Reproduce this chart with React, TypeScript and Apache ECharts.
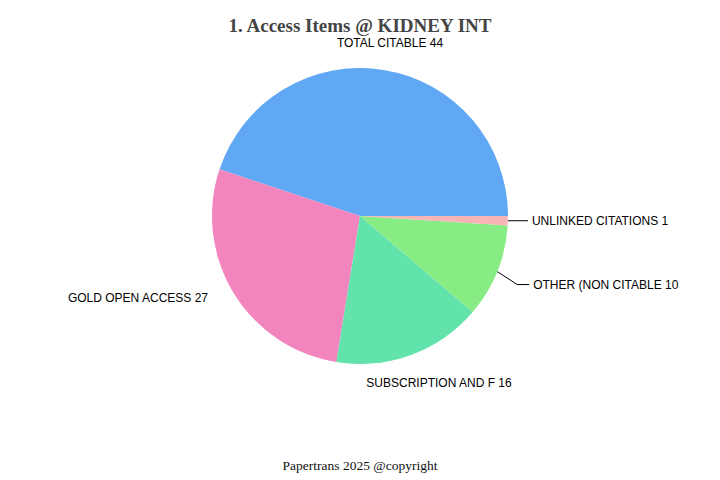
import { useEffect, useRef } from 'react'
import * as echarts from 'echarts'

const categories = [
  'TOTAL CITABLE',
  'GOLD OPEN ACCESS',
  'SUBSCRIPTION AND F',
  'OTHER (NON CITABLE',
  'UNLINKED CITATIONS',
]
const values = [44, 27, 16, 10, 1]
const colors = ['#60A8F4', '#F285BE', '#61E3AB', '#87EC83', '#F7B5B6']
const showLines = [false, false, false, true, true]

// where the line-less labels sit, and how the two leader lines bend
const labelSpots: Record<number, { x: number; y: number; align: string }> = {
  0: { x: 390, y: 43, align: 'center' },
  1: { x: 208, y: 298, align: 'right' },
  2: { x: 439, y: 383, align: 'center' },
}
const lineBends: Record<number, [number, number, number]> = {
  3: [20, 13, 12],
  4: [10, 0, 10],
}

export default function App() {
  const ref = useRef<HTMLDivElement>(null)

  useEffect(() => {
    document.body.style.margin = '0'
    if (!ref.current) return
    const chart = echarts.init(ref.current, null, { renderer: 'svg' })

    chart.setOption({
      animation: false,
      backgroundColor: '#fff',
      title: {
        text: '1. Access Items @ KIDNEY INT',
        left: 'center',
        top: 11,
        textStyle: {
          fontFamily: 'Liberation Serif, Times New Roman, serif',
          fontSize: 19,
          fontWeight: 'bold',
          color: '#444',
        },
      },
      graphic: [
        {
          type: 'text',
          left: 'center',
          top: 458,
          style: {
            text: 'Papertrans 2025 @copyright',
            fontFamily: 'Liberation Serif, Times New Roman, serif',
            fontSize: 13.5,
            fill: '#111',
          },
        },
      ],
      series: [
        {
          type: 'pie',
          center: [360, 216],
          radius: 148,
          startAngle: 0,
          clockwise: false,
          label: {
            show: true,
            position: 'outside',
            formatter: '{b} {c}',
            fontFamily: 'Liberation Sans, Arial, sans-serif',
            fontSize: 12,
            color: '#000',
          },
          labelLine: {
            length: 10,
            length2: 10,
            lineStyle: { color: '#000', width: 1 },
          },
          labelLayout: (params: any) => {
            const i = params.dataIndex
            const spot = labelSpots[i]
            if (spot) {
              return { x: spot.x, y: spot.y, align: spot.align, verticalAlign: 'middle' }
            }
            const bend = lineBends[i]
            const pts = params.labelLinePoints
            if (bend && pts && pts.length) {
              const p0 = pts[0]
              const p1 = [p0[0] + bend[0], p0[1] + bend[1]]
              const p2 = [p1[0] + bend[2], p1[1]]
              return {
                x: p2[0] + 4,
                y: p2[1],
                align: 'left',
                verticalAlign: 'middle',
                labelLinePoints: [p0, p1, p2],
              }
            }
            return {}
          },
          emphasis: { disabled: true },
          data: categories.map((name, i) => ({
            name,
            value: values[i],
            itemStyle: { color: colors[i] },
            labelLine: { show: showLines[i] },
          })),
        },
      ],
    })

    return () => chart.dispose()
  }, [])

  return <div ref={ref} style={{ width: 720, height: 480 }} />
}
